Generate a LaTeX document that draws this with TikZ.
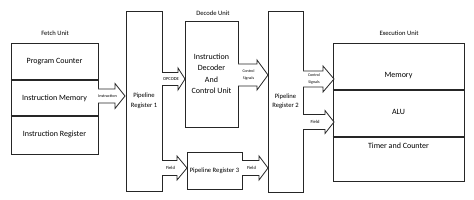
\documentclass[tikz,border=0pt]{standalone}
\usepackage{fontspec}
\setmainfont{Carlito}
\begin{document}
\begin{tikzpicture}[x=1pt,y=-1pt,
  unitbox/.style={draw=black!85, line width=0.8pt, fill=white, inner sep=0pt},
  divider/.style={draw=black!85, line width=1.2pt},
  maintext/.style={font=\fontsize{8}{11.5}\selectfont, align=center, inner sep=0pt},
  regtext/.style={font=\fontsize{6.6}{9.5}\selectfont, align=center, inner sep=0pt},
  unitlabel/.style={font=\fontsize{6.6}{8}\selectfont, inner sep=0pt},
  arrbody/.style={draw=black!85, line width=0.8pt, fill=white, line join=miter},
  arrlabel/.style={inner sep=0pt, align=center}
]
\useasboundingbox (0,0) rectangle (474,200);
\newcommand{\blockarrow}[8]{%
  \draw[arrbody] (#1,#4-#5) -- (#2,#4-#5) -- (#2,#4-#6) -- (#3,#4) -- (#2,#4+#6) -- (#2,#4+#5) -- (#1,#4+#5);
  \node[arrlabel, font=#8] at ({(#1+#2)/2+1},#4) {#7};}

% Fetch unit
\node[unitbox, minimum width=87pt, minimum height=111pt] (fetch) at (54.5,98.5) {};
\draw[divider] (fetch.west |- 0,80) -- (fetch.east |- 0,80);
\draw[divider] (fetch.west |- 0,116) -- (fetch.east |- 0,116);
\node[unitlabel] (fetchlbl) at (55,33) {Fetch Unit};
\node[maintext] (pc) at (54.5,62) {Program Counter};
\node[maintext] (im) at (54.5,98) {Instruction Memory};
\node[maintext] (ir) at (54.5,134) {Instruction Register};

% Pipeline register 1
\node[unitbox, minimum width=36pt, minimum height=180pt] (pr1) at (144,101) {};
\node[regtext] (pr1t) at (144,101) {Pipeline\\Register 1};

% Decode unit
\node[unitbox, minimum width=53pt, minimum height=106pt] (dec) at (211.5,74) {};
\node[maintext] (dect) at (211.5,74) {Instruction\\Decoder\\And\\Control Unit};
\node[unitlabel] (declbl) at (213,13) {Decode Unit};

% Pipeline register 3
\node[unitbox, minimum width=55pt, minimum height=37pt] (pr3) at (214.5,170.5) {};
\node[regtext] (pr3t) at (214.5,170.5) {Pipeline Register 3};

% Pipeline register 2
\node[unitbox, minimum width=35pt, minimum height=181pt] (pr2) at (285.5,101.5) {};
\node[regtext] (pr2t) at (285.5,101.5) {Pipeline\\Register 2};

% Execution unit
\node[unitbox, minimum width=131pt, minimum height=138pt] (exec) at (398.5,112) {};
\draw[divider] (exec.west |- 0,90) -- (exec.east |- 0,90);
\draw[divider] (exec.west |- 0,137) -- (exec.east |- 0,137);
\node[unitlabel] (execlbl) at (399,33) {Execution Unit};
\node[maintext] (mem) at (398.5,76) {Memory};
\node[maintext] (alu) at (398.5,112) {ALU};
\node[maintext] (tc) at (398.5,146) {Timer and Counter};

% Block arrows
\blockarrow{98}{115}{125}{96}{7}{12.5}{Instruction}{\fontsize{4.2}{5}\selectfont}
\blockarrow{162}{178}{185}{79}{6.5}{11}{OPCODE}{\fontsize{4.6}{5}\selectfont}
\blockarrow{162}{177}{187}{168}{7.5}{12}{Field}{\fontsize{4.6}{5}\selectfont}
\blockarrow{242}{259}{268}{168}{7.5}{12}{Field}{\fontsize{4.6}{5}\selectfont}
\blockarrow{238}{257}{268}{75}{11}{15}{Control\\Signals}{\fontsize{4}{7}\selectfont}
\blockarrow{303}{323}{334}{79}{8}{13}{Control\\Signals}{\fontsize{4}{6.5}\selectfont}
\blockarrow{303}{325}{334}{122}{7.5}{11.5}{Field}{\fontsize{4.6}{5}\selectfont}
\end{tikzpicture}
\end{document}
